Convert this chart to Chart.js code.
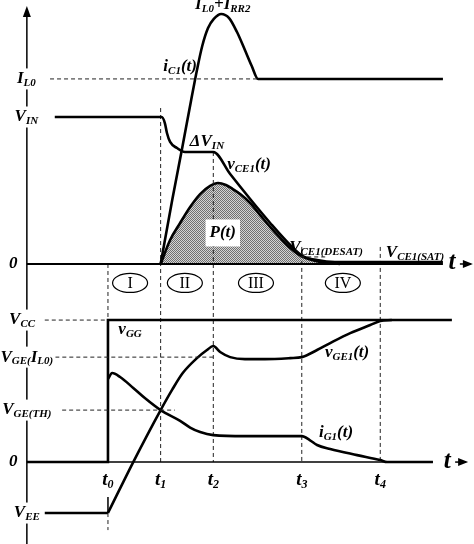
<!DOCTYPE html>
<html>
<head>
<meta charset="utf-8">
<script src="https://cdn.jsdelivr.net/npm/chart.js@4"></script>
<style>
  body { margin: 0; background: #fff; }
  #wrap { width: 474px; height: 544px; }
</style>
</head>
<body>
<div id="wrap"><canvas id="c" width="474" height="544"></canvas></div>
<script>
// time axis: t0 = 1, t1 = 2, t2 = 3 ...
const tTicks = [1, 2, 3, 4.68, 6.17];
const tNames = ["0", "1", "2", "3", "4"];
const regionNames = ["I", "II", "III", "IV"];
const regionMid = [1.42, 2.46, 3.81, 5.46];

// upper plot levels (units of V_IN)
const iL0Level = 1.259;
const vInLevel = 1.0;
// lower plot levels (units of V_CC)
const vccLevel = 1.0;
const vgeIL0Level = 0.739;
const vgeThLevel = 0.366;
const veeLevel = -0.359;

// collector current i_C1(t)
const iC1T = [2.0, 2.22, 2.42, 2.58, 2.69, 2.79, 2.9, 3.01, 3.15, 3.3, 3.45, 3.6, 3.73, 3.85, 7.36];
const iC1V = [0, 0.435, 0.810, 1.116, 1.320, 1.483, 1.605, 1.667, 1.701, 1.673, 1.578, 1.456, 1.347, 1.259, 1.259];

// collector-emitter voltage v_CE1(t)
const vCE1T = [-0.01, 2.02, 2.08, 2.12, 2.18, 2.31, 2.46, 3.0, 3.32, 3.7, 4.08, 4.46, 4.7, 4.97, 5.31, 7.36];
const vCE1V = [1.0, 1.0, 0.959, 0.891, 0.830, 0.789, 0.762, 0.762, 0.612, 0.442, 0.279, 0.129, 0.054, 0.027, 0.014, 0.014];

// switching loss P(t)
const pT = [2.0, 2.18, 2.37, 2.56, 2.75, 2.94, 3.09, 3.24, 3.37, 3.51, 3.7, 3.89, 4.08, 4.27, 4.46, 4.7, 5.03, 5.41];
const pV = [0, 0.163, 0.279, 0.388, 0.476, 0.531, 0.551, 0.537, 0.510, 0.476, 0.415, 0.333, 0.252, 0.177, 0.109, 0.048, 0.014, 0];

// gate voltage v_GE1(t)
const vGE1T = [1.0, 1.48, 2.0, 2.22, 2.42, 2.69, 2.88, 3.0, 3.13, 3.32, 3.6, 3.98, 4.46, 4.68, 4.97, 5.22, 5.6, 5.98, 6.17, 6.39];
const vGE1V = [-0.359, 0, 0.366, 0.510, 0.627, 0.732, 0.789, 0.817, 0.775, 0.739, 0.725, 0.725, 0.732, 0.739, 0.789, 0.838, 0.908, 0.965, 0.993, 1.0];

// gate current i_G1(t)
const iG1T = [1.0, 1.08, 1.23, 1.48, 1.7, 2.0, 2.37, 2.56, 2.75, 3.0, 3.6, 4.68, 4.83, 4.97, 5.22, 5.73, 6.17, 6.3, 7.17];
const iG1V = [0.585, 0.627, 0.599, 0.522, 0.451, 0.366, 0.290, 0.243, 0.211, 0.190, 0.183, 0.183, 0.155, 0.120, 0.092, 0.049, 0.014, 0, 0];

// gate drive v_GG
const vGGT = [-0.54, 1, 1, 7.53];
const vGGV = [0, 0, 1, 1];

// dashed instants: where each marker starts / ends (upper plot units)
const markerFrom = [0, 1.061, 0.762, 0.116, 0.116];
const markerTo = [-0.381, -1.347, -1.347, -1.347, -1.347];

const pts = (xs, ys) => xs.map((x, i) => ({ x: x, y: ys[i] }));

function line(data, axis, extra) {
  return Object.assign({
    data: data, yAxisID: axis, borderColor: '#000', borderWidth: 2.6,
    pointRadius: 0, fill: false, tension: 0
  }, extra || {});
}
const dash = { borderWidth: 1, borderDash: [4, 3], borderColor: '#222' };
const smooth = { cubicInterpolationMode: 'monotone' };

// stipple for the loss area
const pc = document.createElement('canvas');
pc.width = 2; pc.height = 2;
const pg = pc.getContext('2d');
pg.fillStyle = '#d4d4d4'; pg.fillRect(0, 0, 2, 2);
pg.fillStyle = '#707070'; pg.fillRect(0, 0, 1, 1); pg.fillRect(1, 1, 1, 1);
const ctx = document.getElementById('c').getContext('2d');
const stipple = ctx.createPattern(pc, 'repeat');

const datasets = [
  // axes
  line(pts([-0.54, -0.54], [-1.905, 1.714]), 'y', { borderWidth: 1.5 }),
  line(pts([-0.54, 7.36], [0, 0]), 'y', { borderWidth: 2 }),
  line(pts([-0.54, 7.17], [0, 0]), 'y2', { borderWidth: 1.5 }),
  // reference levels
  line(pts([-0.10, 3.85], [iL0Level, iL0Level]), 'y', dash),
  line(pts([4.65, 5.16], [0.048, 0.048]), 'y', dash),
  line(pts([-0.2, 1.0], [vccLevel, vccLevel]), 'y2', dash),
  line(pts([0.0, 3.0], [vgeIL0Level, vgeIL0Level]), 'y2', dash),
  line(pts([0.13, 2.27], [vgeThLevel, vgeThLevel]), 'y2', dash),
  line(pts([1, 1], [-0.359, -0.479]), 'y2', dash),
  line(pts([1, 1], [-0.246, -0.359]), 'y2', { borderWidth: 1.5 }),
  // waveforms
  line(pts(iC1T, iC1V), 'y', smooth),
  line(pts(vCE1T, vCE1V), 'y', smooth),
  line(pts(pT, pV), 'y', Object.assign({ fill: 'origin', backgroundColor: stipple, order: 5 }, smooth)),
  line(pts(vGGT, vGGV), 'y2'),
  line(pts([-0.2, 1.0], [veeLevel, veeLevel]), 'y2'),
  line(pts(vGE1T, vGE1V), 'y2', smooth),
  line(pts(iG1T, iG1V), 'y2', smooth)
];
tTicks.forEach((t, i) => {
  datasets.push(line(pts([t, t], [markerFrom[i], markerTo[i]]), 'y', dash));
});

// text placed in data units
const textItems = [
  { parts: [["I", 0], ["L0", 1]], t: -0.55, v: iL0Level, axis: 'y', bg: true },
  { parts: [["V", 0], ["IN", 1]], t: -0.55, v: vInLevel, axis: 'y', bg: true },
  { parts: [["0", 0]], t: -0.80, v: 0, axis: 'y', bg: true },
  { parts: [["V", 0], ["CC", 1]], t: -0.63, v: vccLevel, axis: 'y2', bg: true },
  { parts: [["V", 0], ["GE(", 1], ["I", 0], ["L0)", 1]], t: -0.54, v: vgeIL0Level, axis: 'y2', bg: true },
  { parts: [["V", 0], ["GE(TH)", 1]], t: -0.54, v: vgeThLevel, axis: 'y2', bg: true },
  { parts: [["0", 0]], t: -0.80, v: 0, axis: 'y2', bg: true },
  { parts: [["V", 0], ["EE", 1]], t: -0.54, v: veeLevel, axis: 'y2', bg: true },
  { parts: [["I", 0], ["L0", 1], ["+", 0], ["I", 0], ["RR2", 1]], t: 3.18, v: 1.762, axis: 'y' },
  { parts: [["i", 0], ["C1", 1], ["(t)", 0]], t: 2.37, v: 1.340, axis: 'y' },
  { parts: [["ΔV", 0], ["IN", 1]], t: 2.88, v: 0.830, axis: 'y' },
  { parts: [["v", 0], ["CE1", 1], ["(t)", 0]], t: 3.68, v: 0.673, axis: 'y' },
  { parts: [["P(t)", 0]], t: 3.18, v: 0.211, axis: 'y', box: true },
  { parts: [["V", 0], ["CE1(DESAT)", 1]], t: 5.14, v: 0.109, axis: 'y' },
  { parts: [["V", 0], ["CE1(SAT)", 1]], t: 6.83, v: 0.075, axis: 'y' },
  { parts: [["v", 0], ["GG", 1]], t: 1.42, v: 0.930, axis: 'y2' },
  { parts: [["v", 0], ["GE1", 1], ["(t)", 0]], t: 5.54, v: 0.768, axis: 'y2' },
  { parts: [["i", 0], ["G1", 1], ["(t)", 0]], t: 5.33, v: 0.204, axis: 'y2' }
];
tTicks.forEach((t, i) => {
  textItems.push({ parts: [["t", 0], [tNames[i], 1]], t: t, v: -0.127, axis: 'y2', size: 19 });
});

function fontOf(size) { return 'bold italic ' + size + 'px "Liberation Serif", "Times New Roman", serif'; }

function drawRich(c, item, cx, cy) {
  const big = item.size || 17;
  const small = Math.round(big * 0.64);
  let w = 0;
  item.parts.forEach(p => { c.font = fontOf(p[1] ? small : big); w += c.measureText(p[0]).width; });
  if (item.bg || item.box) {
    c.fillStyle = '#fff';
    const padX = item.box ? 4 : 2, padY = item.box ? 5 : 2;
    c.fillRect(cx - w / 2 - padX, cy - big / 2 - padY, w + 2 * padX, big + 2 * padY);
  }
  c.fillStyle = '#000';
  c.textBaseline = 'middle';
  c.textAlign = 'left';
  let x = cx - w / 2;
  item.parts.forEach(p => {
    c.font = fontOf(p[1] ? small : big);
    c.fillText(p[0], x, p[1] ? cy + big * 0.26 : cy);
    x += c.measureText(p[0]).width;
  });
}

function arrowHead(c, x, y, dir) {
  c.beginPath();
  if (dir === 'up') { c.moveTo(x, y); c.lineTo(x - 4, y + 11); c.lineTo(x + 4, y + 11); }
  else { c.moveTo(x, y); c.lineTo(x - 10, y - 4); c.lineTo(x - 10, y + 4); }
  c.closePath();
  c.fill();
}

const sketchText = {
  id: 'sketchText',
  afterDatasetsDraw(chart) {
    const c = chart.ctx, s = chart.scales;
    c.save();
    // y-axis arrow
    c.fillStyle = '#000';
    arrowHead(c, s.x.getPixelForValue(-0.54), s.y.getPixelForValue(1.714) - 6, 'up');
    // time arrows
    [['y', 7.53], ['y2', 7.44]].forEach(a => {
      const x = s.x.getPixelForValue(a[1]), y = s[a[0]].getPixelForValue(0);
      c.font = fontOf(25);
      c.textAlign = 'center'; c.textBaseline = 'middle';
      c.fillStyle = '#000';
      c.fillText('t', x, y - 1);
      c.strokeStyle = '#000'; c.lineWidth = 1.5;
      c.beginPath(); c.moveTo(x + 8, y); c.lineTo(x + 19, y); c.stroke();
      arrowHead(c, x + 21, y, 'right');
    });
    // interval ellipses
    regionMid.forEach((t, i) => {
      const x = s.x.getPixelForValue(t), y = s.y.getPixelForValue(-0.129);
      c.beginPath();
      c.ellipse(x, y, 17.5, 9.5, 0, 0, Math.PI * 2);
      c.fillStyle = '#fff'; c.fill();
      c.strokeStyle = '#000'; c.lineWidth = 1.2; c.stroke();
      c.fillStyle = '#000';
      c.font = '16px "Liberation Serif", serif';
      c.textAlign = 'center'; c.textBaseline = 'middle';
      c.fillText(regionNames[i], x, y + 1);
    });
    textItems.forEach(it => {
      drawRich(c, it, s.x.getPixelForValue(it.t), s[it.axis].getPixelForValue(it.v));
    });
    c.restore();
  }
};

new Chart(ctx, {
  type: 'line',
  data: { datasets: datasets },
  options: {
    responsive: false,
    devicePixelRatio: 1,
    animation: false,
    layout: { padding: 0 },
    plugins: { legend: { display: false }, tooltip: { enabled: false } },
    scales: {
      x: { type: 'linear', min: -1.05, max: 7.95, display: false },
      y: { type: 'linear', min: -1.905, max: 1.796, display: false },
      y2: { type: 'linear', min: -0.577, max: 3.254, display: false }
    }
  },
  plugins: [sketchText]
});
</script>
</body>
</html>
